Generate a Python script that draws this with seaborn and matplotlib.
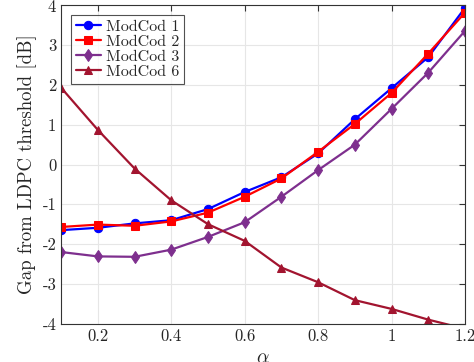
import numpy as np
import pandas as pd
import matplotlib
matplotlib.use("Agg")
import matplotlib.pyplot as plt
import seaborn as sns

alpha = [0.1, 0.2, 0.3, 0.4, 0.5, 0.6, 0.7, 0.8, 0.9, 1.0, 1.1, 1.2]
modcod1 = [-1.65, -1.59, -1.48, -1.40, -1.12, -0.69, -0.32, 0.28, 1.14, 1.92, 2.70, 3.94]
modcod2 = [-1.57, -1.51, -1.54, -1.43, -1.21, -0.81, -0.35, 0.32, 1.02, 1.80, 2.79, 3.82]
modcod3 = [-2.20, -2.31, -2.32, -2.14, -1.82, -1.45, -0.81, -0.14, 0.50, 1.40, 2.31, 3.36]
modcod6 = [1.93, 0.87, -0.10, -0.90, -1.50, -1.92, -2.59, -2.96, -3.41, -3.63, -3.90, -4.13]

series = {
    "ModCod 1": (modcod1, "#0000ff", "o"),
    "ModCod 2": (modcod2, "#ff0000", "s"),
    "ModCod 3": (modcod3, "#7e2f8e", "d"),
    "ModCod 6": (modcod6, "#a2142f", "^"),
}

sns.set_style("white")
plt.rcParams["font.family"] = ["cmr10", "DejaVu Serif"]
plt.rcParams["mathtext.fontset"] = "cm"
plt.rcParams["axes.formatter.use_mathtext"] = True

fig = plt.figure(figsize=(4.74, 3.62), dpi=100)
ax = fig.add_axes([0.129, 0.106, 0.852, 0.879])

for name, (vals, color, marker) in series.items():
    df = pd.DataFrame({"alpha": alpha, "gap": vals})
    sns.lineplot(data=df, x="alpha", y="gap", ax=ax, color=color, marker=marker,
                 markersize=6, markeredgecolor=color, linewidth=1.6, label=name)

ax.set_xlim(0.1, 1.2)
ax.set_ylim(-4, 4)
ax.set_xticks([0.2, 0.4, 0.6, 0.8, 1.0, 1.2])
ax.set_xticklabels(["0.2", "0.4", "0.6", "0.8", "1", "1.2"])
ax.set_yticks(range(-4, 5))
ax.set_yticklabels([str(v) for v in range(-4, 5)])
ax.grid(True, color="#e6e6e6", linewidth=0.8)
ax.tick_params(direction="in", top=True, right=True, length=4, color="#333333",
               labelsize=12, labelcolor="#262626")
for sp in ax.spines.values():
    sp.set_color("#333333")
    sp.set_linewidth(0.8)

ax.set_xlabel(r"$\alpha$", fontsize=14, color="#262626")
ax.set_ylabel("Gap from LDPC threshold [dB]", fontsize=13.5, color="#262626")

leg = ax.legend(loc="upper left", fontsize=11.5, frameon=True, fancybox=False,
                edgecolor="#262626", borderpad=0.3, handlelength=1.6,
                handletextpad=0.3, labelspacing=0.05, borderaxespad=0.6)
leg.get_frame().set_linewidth(0.8)

fig.savefig("out.png", dpi=100)
